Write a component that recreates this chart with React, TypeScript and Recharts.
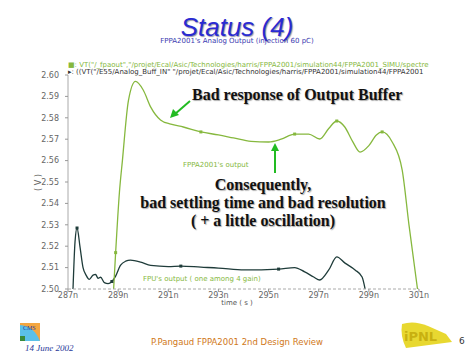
import { LineChart, Line, XAxis, YAxis } from "recharts";

// FPPA2001's output (green), time in ns, volts; m = drawn marker
const greenT = [288.82, 288.9, 289.05, 289.17, 289.41, 289.69, 290.0, 290.3, 290.69, 291.1, 291.6, 292.3, 293.0, 293.6, 294.3, 295.0, 295.5, 296.04, 296.6, 297.04, 297.4, 297.72, 298.04, 298.35, 298.65, 299.0, 299.3, 299.53, 299.93, 300.33, 300.6, 300.94];
const greenV = [2.5, 2.517, 2.545, 2.56, 2.588, 2.597, 2.593, 2.585, 2.579, 2.577, 2.5757, 2.5734, 2.572, 2.5706, 2.569, 2.5687, 2.57, 2.5724, 2.5724, 2.5701, 2.575, 2.5785, 2.5757, 2.569, 2.564, 2.567, 2.572, 2.5734, 2.5687, 2.5556, 2.53, 2.5];
const greenMarks = [288.9, 292.3, 296.04, 297.72, 299.53];

// FPU's output (dark)
const darkT = [287.2, 287.28, 287.36, 287.48, 287.6, 287.72, 287.85, 288.0, 288.1, 288.2, 288.3, 288.45, 288.6, 288.75, 288.9, 289.09, 289.3, 289.49, 289.9, 290.3, 291.0, 291.5, 292.3, 293.0, 294.03, 295.4, 296.04, 296.44, 296.8, 297.04, 297.4, 297.72, 298.05, 298.45, 298.73, 298.85];
const darkV = [2.5, 2.522, 2.5285, 2.5196, 2.51, 2.5065, 2.5045, 2.5065, 2.5068, 2.505, 2.5055, 2.503, 2.5025, 2.5035, 2.506, 2.511, 2.513, 2.5135, 2.5126, 2.511, 2.5105, 2.5107, 2.5102, 2.5098, 2.5089, 2.5093, 2.51, 2.508, 2.5056, 2.5042, 2.5089, 2.515, 2.5121, 2.5089, 2.5056, 2.5];
const darkMarks = [287.36, 288.75, 291.5, 295.4];

const xTicks = [287, 289, 291, 293, 295, 297, 299, 301];
const yTicks = [2.5, 2.51, 2.52, 2.53, 2.54, 2.55, 2.56, 2.57, 2.58, 2.59, 2.6];

const GREEN = "#86b83e";
const DARK = "#1f3c3a";

const greenData = greenT.map((t, i) => ({ t, v: greenV[i], m: greenMarks.includes(t) }));
const darkData = darkT.map((t, i) => ({ t, v: darkV[i], m: darkMarks.includes(t) }));

const markDot = (color: string) => (p: any) =>
  p.payload.m ? (
    <rect key={p.index} x={p.cx - 1.5} y={p.cy - 1.5} width={3} height={3} fill={color} />
  ) : (
    <g key={p.index} />
  );

const tickStyle = { fill: "#666", fontSize: 8, fontFamily: "DejaVu Sans" };
const annot: React.CSSProperties = {
  position: "absolute",
  fontFamily: "Liberation Serif",
  fontWeight: "bold",
  fontSize: 16,
  color: "#111",
  textShadow: "1px 1px 1px #aaa",
  whiteSpace: "nowrap",
};
const small: React.CSSProperties = {
  position: "absolute",
  fontFamily: "DejaVu Sans",
  fontSize: 6,
  whiteSpace: "nowrap",
};

export default function App() {
  return (
    <div style={{ position: "absolute", left: 0, top: 0, width: 474, height: 355, background: "#fff", overflow: "hidden" }}>
      <div style={{ position: "absolute", left: 0, width: 474, top: 12, textAlign: "center", fontFamily: "Liberation Sans", fontStyle: "italic", fontSize: 26, color: "#2a2ad2", textShadow: "1px 1px 1px #99a" }}>
        Status (4)
      </div>
      <div style={{ ...small, left: 0, width: 474, top: 37, textAlign: "center", fontSize: 7, color: "#3a3ab0" }}>
        FPPA2001's Analog Output (injection 60 pC)
      </div>
      <div style={{ ...small, left: 68, top: 61, fontSize: 7, color: GREEN }}>
        ■: VT("/_fpaout","/projet/Ecal/Asic/Technologies/harris/FPPA2001/simulation44/FPPA2001_SIMU/spectre
      </div>
      <div style={{ ...small, left: 68, top: 68, fontSize: 7, color: "#333" }}>
        ▸: ((VT("/E55/Analog_Buff_IN" "/projet/Ecal/Asic/Technologies/harris/FPPA2001/simulation44/FPPA2001
      </div>

      <LineChart width={474} height={355} style={{ position: "absolute", left: 0, top: 0 }} margin={{ top: 75, right: 55, left: 28, bottom: 46 }}>
        <XAxis
          type="number"
          dataKey="t"
          domain={[287, 301]}
          ticks={xTicks}
          tickFormatter={(v: number) => `${v}n`}
          tick={tickStyle}
          axisLine={{ stroke: "#aaa", strokeDasharray: "3 2" }}
          tickLine={{ stroke: "#999" }}
          tickSize={3}
          tickMargin={0}
          height={20}
          allowDataOverflow
        />
        <YAxis
          type="number"
          domain={[2.5, 2.6]}
          ticks={yTicks}
          tickFormatter={(v: number) => v.toFixed(2)}
          tick={tickStyle}
          axisLine={{ stroke: "#aaa" }}
          tickLine={{ stroke: "#999" }}
          tickSize={3}
          tickMargin={6}
          width={40}
          allowDataOverflow
        />
        <Line data={darkData} dataKey="v" type="monotone" stroke={DARK} strokeWidth={1.3} dot={markDot(DARK)} isAnimationActive={false} />
        <Line data={greenData} dataKey="v" type="monotone" stroke={GREEN} strokeWidth={1.3} dot={markDot(GREEN)} isAnimationActive={false} />
      </LineChart>

      <div style={{ ...small, left: 30, top: 178, fontSize: 8, color: "#666", transform: "rotate(-90deg)" }}>( V )</div>
      <div style={{ ...small, left: 0, width: 474, top: 299, textAlign: "center", fontSize: 7, color: "#555" }}>time ( s )</div>
      <div style={{ ...small, left: 183, top: 161, fontSize: 7, color: GREEN }}>FPPA2001's output</div>
      <div style={{ ...small, left: 143, top: 275, fontSize: 7, color: GREEN }}>FPU's output ( one among 4 gain)</div>

      <div style={{ ...annot, left: 192, top: 86 }}>Bad response of Output Buffer</div>
      <div style={{ ...annot, left: 0, width: 526, top: 176, textAlign: "center", lineHeight: "18px" }}>
        Consequently,
        <br />
        bad settling time and bad resolution
        <br />( + a little oscillation)
      </div>

      <svg width={474} height={355} style={{ position: "absolute", left: 0, top: 0, pointerEvents: "none" }}>
        <line x1={190} y1={101} x2={175} y2={114} stroke="#22bb22" strokeWidth={2} />
        <polygon points="170,118 173,109 179,115" fill="#22bb22" />
        <line x1={275} y1={173} x2={275} y2={150} stroke="#22bb22" strokeWidth={2} />
        <polygon points="275,143 271,151 279,151" fill="#22bb22" />
        {/* CMS logo */}
        <rect x={20} y={323} width={20} height={18} fill="#f4a640" />
        <path d="M20,341 L20,325 Q34,326 40,341 Z" fill="#5bc0e8" />
        <rect x={20} y={336} width={5} height={5} fill="#3a8a3a" />
        <text x={23} y={330} fontSize={6} fill="#2a3aa0" fontFamily="Liberation Serif">CMS</text>
        {/* IPN logo */}
        <path d="M402,324 Q414,320 428,326 L446,334 L452,342 L406,348 Q400,336 402,324 Z" fill="#e8d830" />
        <text x={404} y={341} fontSize={13} fontWeight="bold" fill="#c8b010" fontFamily="DejaVu Sans">iPNL</text>
      </svg>

      <div style={{ position: "absolute", left: 25, top: 343, fontFamily: "Liberation Serif", fontStyle: "italic", fontSize: 9, color: "#2a3a9a" }}>14 June 2002</div>
      <div style={{ position: "absolute", left: 0, width: 474, top: 337, textAlign: "center", fontFamily: "DejaVu Sans", fontSize: 8.5, color: "#d07818" }}>
        P.Pangaud FPPA2001 2nd Design Review
      </div>
      <div style={{ position: "absolute", left: 459, top: 336, fontFamily: "DejaVu Sans", fontSize: 9, color: "#333" }}>6</div>
    </div>
  );
}
